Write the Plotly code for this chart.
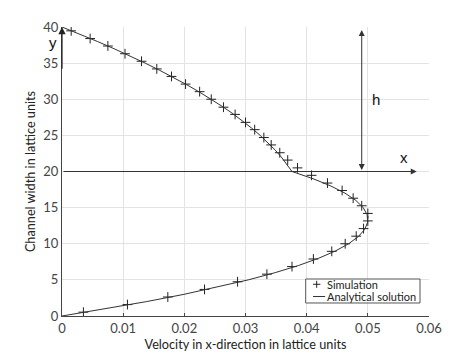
import plotly.graph_objects as go

# Simulation points
sim_y = [0.53, 1.58, 2.63, 3.68, 4.74, 5.79, 6.84, 7.89, 8.95, 10.0, 11.05, 12.1,
         13.16, 14.2, 15.26, 16.3, 17.37, 18.4, 19.47, 20.5, 21.58, 22.6, 23.68,
         24.7, 25.79, 26.8, 27.9, 28.9, 30.0, 31.05, 32.1, 33.16, 34.2, 35.26,
         36.3, 37.37, 38.4, 39.47]
sim_u = [0.0035, 0.0107, 0.0173, 0.0233, 0.0287, 0.0335, 0.0376, 0.0411, 0.0441,
         0.0463, 0.0481, 0.0493, 0.0500, 0.0500, 0.0490, 0.0476, 0.0458, 0.0434,
         0.0408, 0.0385, 0.0369, 0.0356, 0.0342, 0.0330, 0.0315, 0.0300, 0.0283,
         0.0264, 0.0244, 0.0225, 0.0202, 0.0179, 0.0155, 0.0130, 0.0103, 0.0075,
         0.0046, 0.0015]

# Analytical solution
ana_y = list(range(0, 41))
ana_u = [0.0, 0.00721, 0.01386, 0.01995, 0.02548, 0.03045, 0.03485, 0.03870,
         0.04198, 0.04470, 0.04686, 0.04846, 0.04950, 0.04998, 0.04989, 0.04925,
         0.04804, 0.04627, 0.04394, 0.04105, 0.03760, 0.03678, 0.03586, 0.03482,
         0.03366, 0.03240, 0.03102, 0.02954, 0.02794, 0.02622, 0.02440, 0.02246,
         0.02042, 0.01826, 0.01598, 0.01360, 0.01110, 0.00850, 0.00578, 0.00294,
         0.0]

x_ticks = [0, 0.01, 0.02, 0.03, 0.04, 0.05, 0.06]
x_tick_labels = ["0", "0.01", "0.02", "0.03", "0.04", "0.05", "0.06"]
y_ticks = [0, 5, 10, 15, 20, 25, 30, 35, 40]
legend_labels = ["Simulation", "Analytical solution"]

FONT = "Lato"
fig = go.Figure()
fig.add_trace(go.Scatter(x=sim_u, y=sim_y, mode="markers", name=legend_labels[0],
                         marker=dict(symbol="cross-thin", size=7, color="#222",
                                     line=dict(width=1, color="#222"))))
fig.add_trace(go.Scatter(x=ana_u, y=ana_y, mode="lines", name=legend_labels[1],
                         line=dict(color="#333", width=1)))

arrow_col = "#333"
lab_font = dict(family="Liberation Sans", size=15, color="#111")
anns = [
    dict(x=0, y=40, ax=0, ay=34, xref="x", yref="y", axref="x", ayref="y",
         showarrow=True, arrowhead=2, arrowsize=1.2, arrowwidth=1.2, arrowcolor="#222", text=""),
    dict(x=0.058, y=20, ax=0, ay=20, xref="x", yref="y", axref="x", ayref="y",
         showarrow=True, arrowhead=2, arrowsize=1.2, arrowwidth=1, arrowcolor=arrow_col, text=""),
    dict(x=0.049, y=39.6, ax=0.049, ay=20, xref="x", yref="y", axref="x", ayref="y",
         showarrow=True, arrowhead=2, startarrowhead=2, arrowside="end+start",
         arrowsize=1.2, startarrowsize=1.2, arrowwidth=1, arrowcolor=arrow_col, text=""),
    dict(x=0.0513, y=29.9, xref="x", yref="y", text="h", showarrow=False, font=lab_font),
    dict(x=0.0559, y=22.0, xref="x", yref="y", text="x", showarrow=False, font=lab_font),
    dict(x=-0.042, y=37.8, xref="paper", yref="y", text="y", showarrow=False, font=lab_font),
]

# manual compact legend (paper coords)
leg_font = dict(family=FONT, size=11, color="#222")
anns += [
    dict(x=0.72, y=0.1097, xref="paper", yref="paper", xanchor="left", yanchor="middle",
         text=legend_labels[0], showarrow=False, font=leg_font, borderpad=0),
    dict(x=0.72, y=0.0675, xref="paper", yref="paper", xanchor="left", yanchor="middle",
         text=legend_labels[1], showarrow=False, font=leg_font, borderpad=0),
]
shapes = [
    dict(type="rect", xref="paper", yref="paper", x0=0.664, x1=0.9755, y0=0.045, y1=0.128,
         line=dict(color="#555", width=1), fillcolor="white", layer="above"),
    dict(type="line", xref="paper", yref="paper", x0=0.684, x1=0.704, y0=0.1097, y1=0.1097,
         line=dict(color="#222", width=1), layer="above"),
    dict(type="line", xref="paper", yref="paper", x0=0.694, x1=0.694, y0=0.0976, y1=0.1218,
         line=dict(color="#222", width=1), layer="above"),
    dict(type="line", xref="paper", yref="paper", x0=0.684, x1=0.717, y0=0.0675, y1=0.0675,
         line=dict(color="#333", width=1), layer="above"),
]

fig.update_layout(
    width=474, height=355,
    margin=dict(l=62, r=45, t=27, b=39),
    paper_bgcolor="white", plot_bgcolor="white",
    font=dict(family=FONT, size=13, color="#444"),
    showlegend=False,
    annotations=anns, shapes=shapes,
)
fig.update_xaxes(range=[0, 0.06], tickvals=x_ticks, ticktext=x_tick_labels,
                 showgrid=True, gridcolor="#e3e3e3", gridwidth=1,
                 showline=True, linecolor="#444", linewidth=1,
                 ticks="inside", ticklen=3, tickcolor="#444",
                 zeroline=False, automargin=False,
                 tickfont=dict(family=FONT, size=13, color="#444"),
                 title=dict(text="Velocity in x-direction in lattice units",
                            font=dict(family=FONT, size=12.7, color="#222"), standoff=4))
fig.update_yaxes(range=[0, 40], tickvals=y_ticks,
                 showgrid=True, gridcolor="#e3e3e3", gridwidth=1,
                 showline=True, linecolor="#444", linewidth=1,
                 ticks="", zeroline=False, automargin=False,
                 tickfont=dict(family=FONT, size=13, color="#444"),
                 title=dict(text="Channel width in lattice units",
                            font=dict(family=FONT, size=12.7, color="#222"), standoff=4))

fig.write_html("out.html")
